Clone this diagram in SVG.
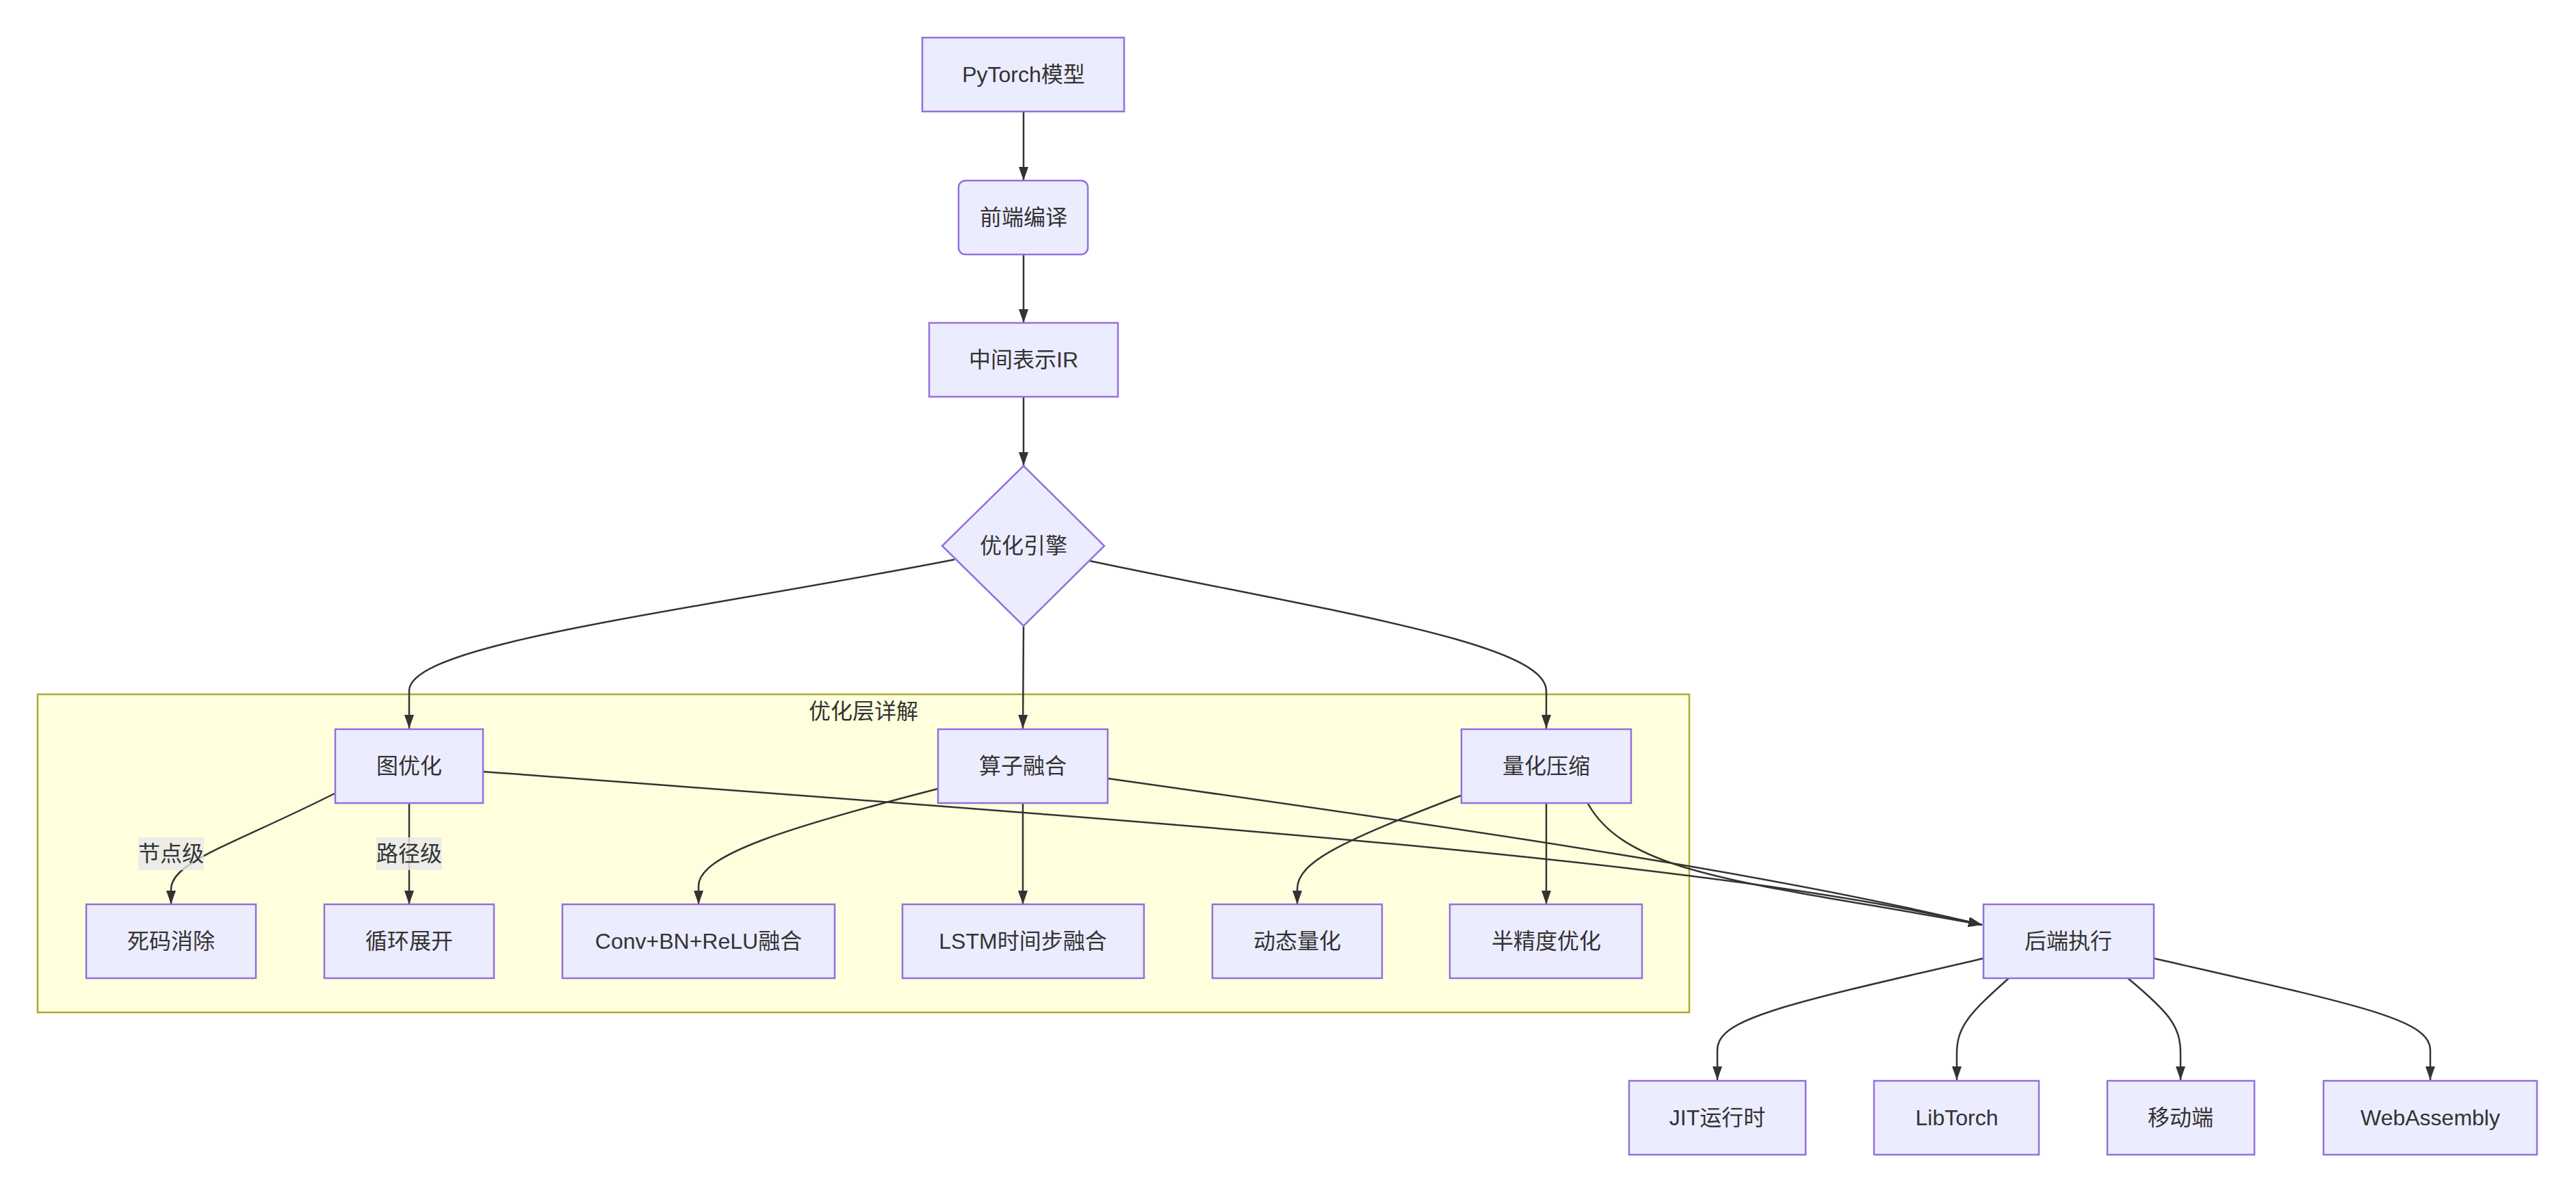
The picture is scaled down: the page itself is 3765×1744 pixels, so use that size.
<svg xmlns="http://www.w3.org/2000/svg" width="3765" height="1744" viewBox="0 0 3765 1744">
<style>
.node rect,.node polygon{fill:#ECECFF;stroke:#9370DB;stroke-width:2.5}
text{font-family:"Liberation Sans","Noto Sans CJK SC",sans-serif;font-size:32px;fill:#333;text-anchor:middle;dominant-baseline:central}
.edge{fill:none;stroke:#333;stroke-width:2.5}
.cluster{fill:#ffffde;stroke:#aaaa33;stroke-width:2.5}
.elbl{fill:#e8e8e8;fill-opacity:0.8}
</style>
<defs>
<marker id="arr" markerUnits="userSpaceOnUse" markerWidth="22" markerHeight="16" refX="20" refY="7" orient="auto">
<path d="M0,0 L20,7 L0,14 z" fill="#333"/>
</marker>
</defs>
<rect width="3765" height="1744" fill="#ffffff"/>
<g id="cluster-opt">
<rect class="cluster" x="55" y="1015" width="2414" height="465"/>
<text x="1262" y="1040">优化层详解</text>
</g>
<g id="connectors">
<path class="edge" marker-end="url(#arr)" d="M1496,163 L1496,264"/>
<path class="edge" marker-end="url(#arr)" d="M1496,372 L1496,472"/>
<path class="edge" marker-end="url(#arr)" d="M1496,580 L1496,681"/>
<path class="edge" marker-end="url(#arr)" d="M1395,818 C1000,895 598,940 598,1010 L598,1065"/>
<path class="edge" marker-end="url(#arr)" d="M1496,915 L1495,1065"/>
<path class="edge" marker-end="url(#arr)" d="M1593,820 C1950,895 2260,940 2260,1010 L2260,1065"/>
<path class="edge" marker-end="url(#arr)" d="M489,1160 C340,1235 250,1260 250,1300 L250,1322"/>
<path class="edge" marker-end="url(#arr)" d="M598,1174 L598,1322"/>
<path class="edge" marker-end="url(#arr)" d="M706,1128 C1800,1210 2500,1260 2897,1352"/>
<path class="edge" marker-end="url(#arr)" d="M1371,1153 C1150,1210 1021,1250 1021,1295 L1021,1322"/>
<path class="edge" marker-end="url(#arr)" d="M1495,1174 L1495,1322"/>
<path class="edge" marker-end="url(#arr)" d="M1619,1138 C2200,1220 2600,1280 2897,1352"/>
<path class="edge" marker-end="url(#arr)" d="M2135,1163 C1960,1230 1896,1260 1896,1300 L1896,1322"/>
<path class="edge" marker-end="url(#arr)" d="M2260,1174 L2260,1322"/>
<path class="edge" marker-end="url(#arr)" d="M2321,1175 C2380,1280 2560,1290 2897,1352"/>
<path class="edge" marker-end="url(#arr)" d="M2899,1401 C2600,1470 2510,1490 2510,1535 L2510,1579"/>
<path class="edge" marker-end="url(#arr)" d="M2936,1430 C2880,1480 2860,1500 2860,1540 L2860,1579"/>
<path class="edge" marker-end="url(#arr)" d="M3110,1430 C3170,1480 3187,1500 3187,1540 L3187,1579"/>
<path class="edge" marker-end="url(#arr)" d="M3148,1401 C3450,1470 3552,1490 3552,1535 L3552,1579"/>
<g id="edge-labels">
<rect class="elbl" x="202" y="1224" width="96" height="48"/>
<text x="250" y="1248">节点级</text>
<rect class="elbl" x="550" y="1224" width="96" height="48"/>
<text x="598" y="1248">路径级</text>
</g>
</g>
<g id="n-pytorch" class="node"><rect x="1348" y="55" width="295" height="108"/><text x="1496" y="109">PyTorch模型</text></g>
<g id="n-frontend" class="node"><rect x="1401" y="264" width="189" height="108" rx="10" ry="10"/><text x="1496" y="318">前端编译</text></g>
<g id="n-ir" class="node"><rect x="1358" y="472" width="276" height="108"/><text x="1496" y="526">中间表示IR</text></g>
<g id="n-engine" class="node"><polygon points="1496,681 1614,798 1496,915 1377,798"/><text x="1496" y="798">优化引擎</text></g>
<g id="n-graph" class="node"><rect x="490" y="1066" width="216" height="108"/><text x="598" y="1120">图优化</text></g>
<g id="n-fuse" class="node"><rect x="1371" y="1066" width="248" height="108"/><text x="1495" y="1120">算子融合</text></g>
<g id="n-quant" class="node"><rect x="2136" y="1066" width="248" height="108"/><text x="2260" y="1120">量化压缩</text></g>
<g id="n-dce" class="node"><rect x="126" y="1322" width="248" height="108"/><text x="250" y="1376">死码消除</text></g>
<g id="n-unroll" class="node"><rect x="474" y="1322" width="248" height="108"/><text x="598" y="1376">循环展开</text></g>
<g id="n-conv" class="node"><rect x="822" y="1322" width="398" height="108"/><text x="1021" y="1376">Conv+BN+ReLU融合</text></g>
<g id="n-lstm" class="node"><rect x="1319" y="1322" width="353" height="108"/><text x="1495" y="1376">LSTM时间步融合</text></g>
<g id="n-dyn" class="node"><rect x="1772" y="1322" width="248" height="108"/><text x="1896" y="1376">动态量化</text></g>
<g id="n-half" class="node"><rect x="2119" y="1322" width="281" height="108"/><text x="2260" y="1376">半精度优化</text></g>
<g id="n-backend" class="node"><rect x="2899" y="1322" width="249" height="108"/><text x="3023" y="1376">后端执行</text></g>
<g id="n-jit" class="node"><rect x="2381" y="1580" width="258" height="108"/><text x="2510" y="1634">JIT运行时</text></g>
<g id="n-libtorch" class="node"><rect x="2739" y="1580" width="241" height="108"/><text x="2860" y="1634">LibTorch</text></g>
<g id="n-mobile" class="node"><rect x="3080" y="1580" width="215" height="108"/><text x="3187" y="1634">移动端</text></g>
<g id="n-wasm" class="node"><rect x="3396" y="1580" width="312" height="108"/><text x="3552" y="1634">WebAssembly</text></g>
</svg>
